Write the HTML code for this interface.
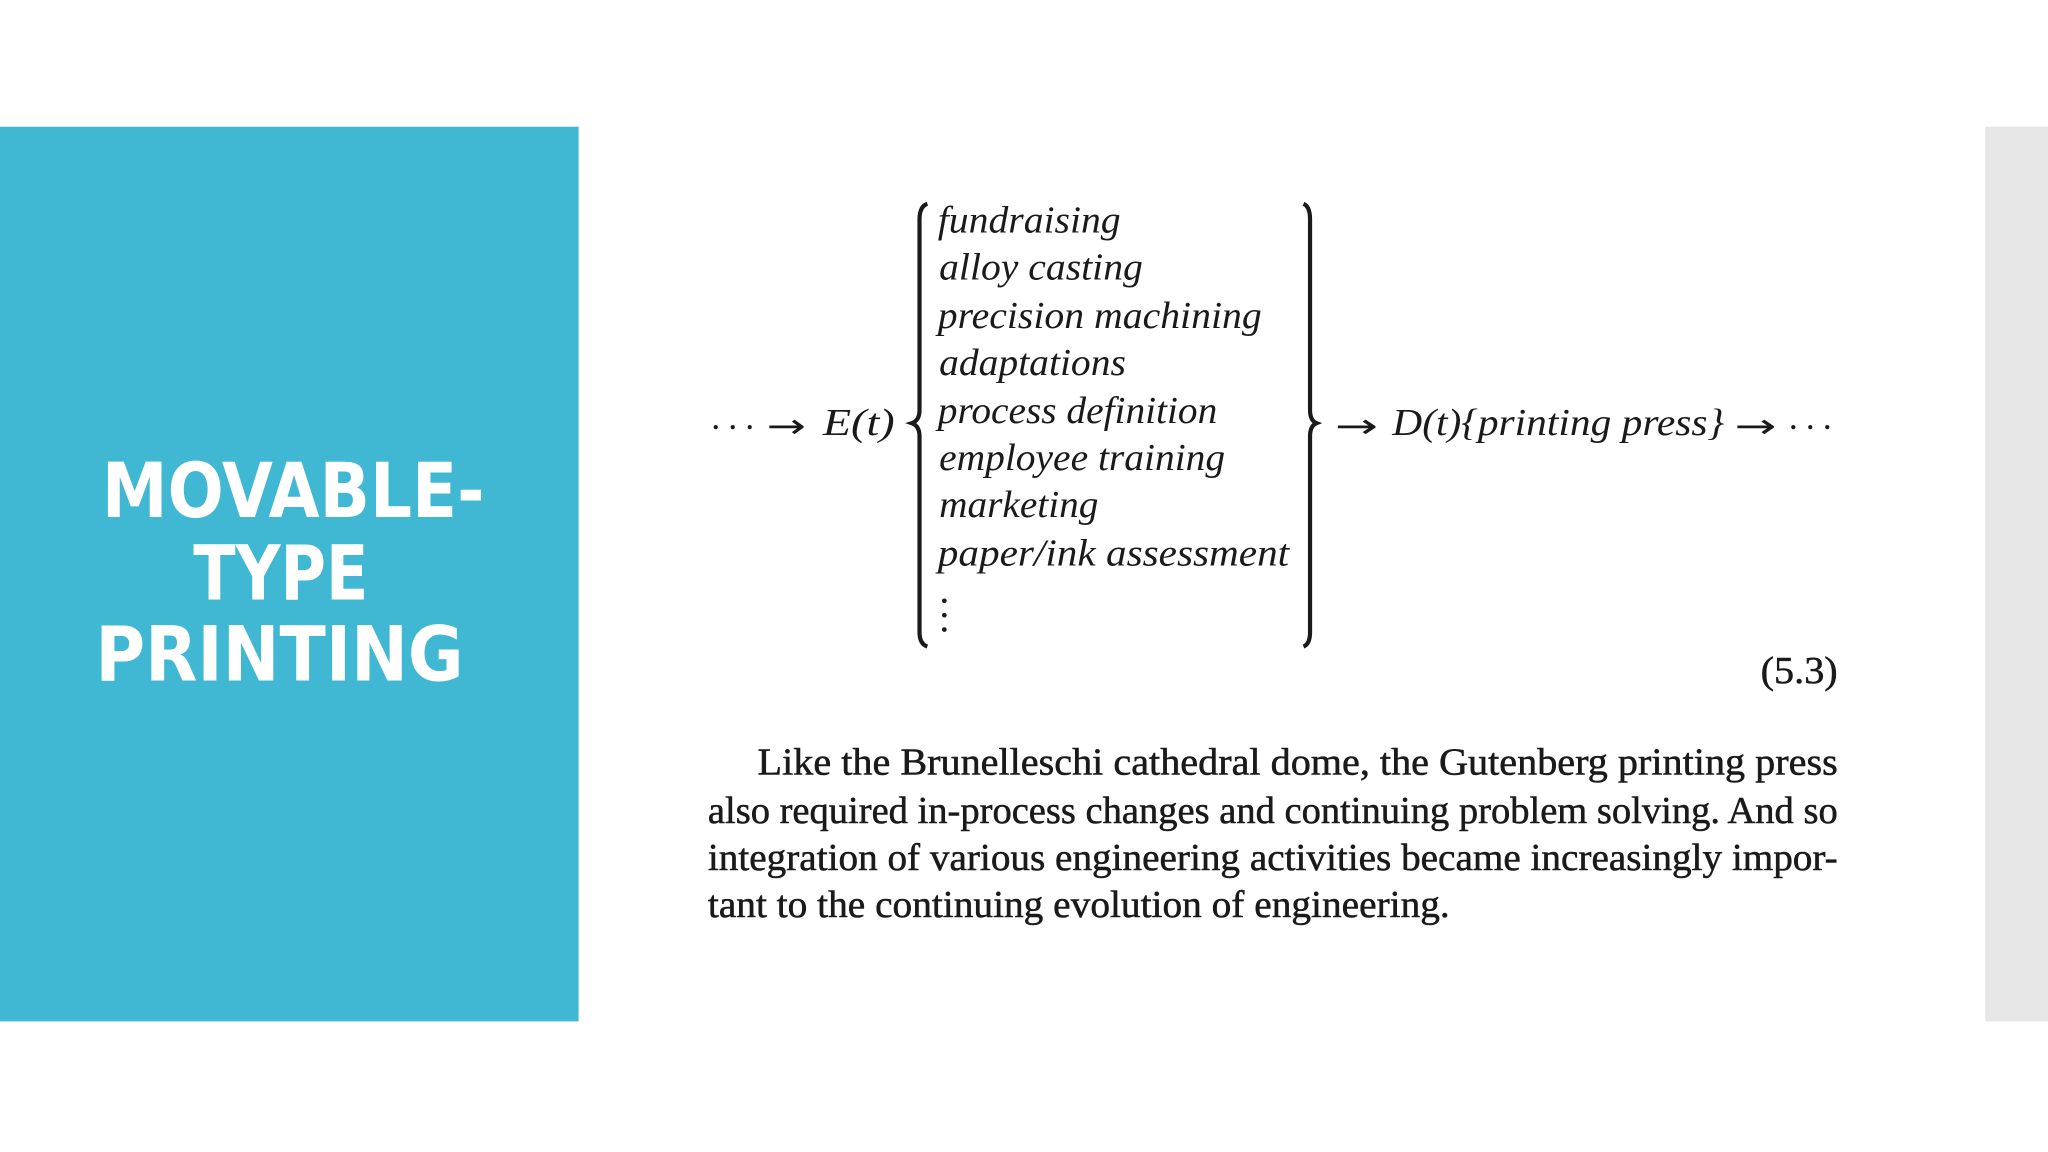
<!DOCTYPE html>
<html><head><meta charset="utf-8"><style>
html,body{margin:0;padding:0;background:#fff;width:2048px;height:1152px;overflow:hidden}
svg{display:block}
</style></head><body>
<svg width="2048" height="1152" viewBox="0 0 1568 882" xmlns="http://www.w3.org/2000/svg">
<rect x="0" y="0" width="1568" height="882" fill="#fff"/>
<rect x="0" y="97" width="443" height="685" fill="#41B8D3"/>
<rect x="1520" y="97" width="48" height="685" fill="#e6e6e6"/>
<g font-family="'DejaVu Sans','Liberation Sans',sans-serif" font-weight="bold" font-size="58" fill="#fff">
<text x="78" y="396" textLength="293" lengthAdjust="spacingAndGlyphs">MOVABLE-</text>
<text x="148" y="459" textLength="134" lengthAdjust="spacingAndGlyphs">TYPE</text>
<text x="73" y="521" textLength="282" lengthAdjust="spacingAndGlyphs">PRINTING</text>
</g>
<g font-family="'Liberation Serif',serif" font-style="italic" font-size="29" fill="#1a1a1a">
<text x="718" y="178" textLength="140" lengthAdjust="spacingAndGlyphs">fundraising</text>
<text x="719" y="214" textLength="156" lengthAdjust="spacingAndGlyphs">alloy casting</text>
<text x="718" y="251" textLength="248" lengthAdjust="spacingAndGlyphs">precision machining</text>
<text x="719" y="287" textLength="143" lengthAdjust="spacingAndGlyphs">adaptations</text>
<text x="718" y="324" textLength="214" lengthAdjust="spacingAndGlyphs">process definition</text>
<text x="719" y="360" textLength="219" lengthAdjust="spacingAndGlyphs">employee training</text>
<text x="719" y="396" textLength="122" lengthAdjust="spacingAndGlyphs">marketing</text>
<text x="718" y="433" textLength="269" lengthAdjust="spacingAndGlyphs">paper/ink assessment</text>
<text x="630" y="333" textLength="55" lengthAdjust="spacingAndGlyphs">E(t)</text>
<text x="1066" y="333" textLength="254" lengthAdjust="spacingAndGlyphs">D(t){printing press}</text>
</g>
<g fill="#1a1a1a">
<circle cx="723" cy="460" r="1.8"/><circle cx="723" cy="471" r="1.8"/><circle cx="723" cy="482" r="1.8"/>
<circle cx="548" cy="327" r="1.6"/><circle cx="561" cy="327" r="1.6"/><circle cx="574" cy="327" r="1.6"/>
<circle cx="1373" cy="327" r="1.6"/><circle cx="1386" cy="327" r="1.6"/><circle cx="1399" cy="327" r="1.6"/>
</g>
<g font-family="'DejaVu Sans',sans-serif" font-size="26" fill="#1a1a1a">
<text x="587" y="335" textLength="30" lengthAdjust="spacingAndGlyphs">→</text>
<text x="1022" y="335" textLength="33" lengthAdjust="spacingAndGlyphs">→</text>
<text x="1328" y="335" textLength="32" lengthAdjust="spacingAndGlyphs">→</text>
</g>
<g fill="none" stroke="#1a1a1a" stroke-width="3.2">
<path d="M710 156 Q704 158 704 168 L704 314 Q704 322 698 324 Q704 326 704 334 L704 484 Q704 493 710 495"/>
<path d="M998 156 Q1003 158 1003 168 L1003 314 Q1003 322 1008 324 Q1003 326 1003 334 L1003 484 Q1003 493 998 495"/>
</g>
<g font-family="'Liberation Serif',serif" font-size="29" fill="#1a1a1a" stroke="#1a1a1a" stroke-width="0.4">
<text x="1348" y="523" textLength="59" lengthAdjust="spacingAndGlyphs">(5.3)</text>
<text x="580" y="593" textLength="827" lengthAdjust="spacingAndGlyphs">Like the Brunelleschi cathedral dome, the Gutenberg printing press</text>
<text x="542" y="630" textLength="865" lengthAdjust="spacingAndGlyphs">also required in-process changes and continuing problem solving. And so</text>
<text x="542" y="666" textLength="865" lengthAdjust="spacingAndGlyphs">integration of various engineering activities became increasingly impor-</text>
<text x="542" y="702" textLength="568" lengthAdjust="spacingAndGlyphs">tant to the continuing evolution of engineering.</text>
</g>
</svg>
</body></html>
